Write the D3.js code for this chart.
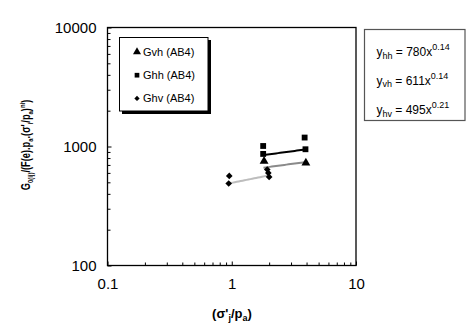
<!DOCTYPE html>
<html>
<head>
<meta charset="utf-8">
<script src="https://cdn.jsdelivr.net/npm/d3@7"></script>
<style>
  html, body { margin: 0; padding: 0; background: #fff; }
  svg { display: block; font-family: "Liberation Sans", Arial, sans-serif; }
</style>
</head>
<body>
<svg id="chart" width="474" height="330"></svg>
<script>
// Normalised shear modulus vs normalised effective stress (sample AB4)
const xTickLabels = [0.1, 1, 10];
const yTickLabels = [100, 1000, 10000];

const gvhX = [1.82, 3.95];
const gvhY = [752, 728];

const ghhX = [1.79, 1.79, 3.86, 3.92];
const ghhY = [1010, 866, 1189, 948];

const ghvX = [0.955, 0.945, 1.93, 1.97, 2.0];
const ghvY = [566, 489, 641, 600, 555];

// power-law fits y = a * x^b
const fitNames = ["hh", "vh", "hv"];
const fitCoef = [780, 611, 495];
const fitExp = [0.14, 0.14, 0.21];
const fitFrom = [1.8, 1.8, 0.95];
const fitTo = [3.9, 3.9, 1.95];
const fitColor = ["#000000", "#8a8a8a", "#bdbdbd"];

const legendNames = ["Gvh (AB4)", "Ghh (AB4)", "Ghv (AB4)"];

const svg = d3.select("#chart");
const plotLeft = 107.5, plotRight = 356, plotTop = 27.5, plotBottom = 265.5;

const x = d3.scaleLog().domain([0.1, 10]).range([plotLeft, plotRight]);
const y = d3.scaleLog().domain([100, 10000]).range([plotBottom, plotTop]);

// frame
svg.append("rect")
  .attr("x", plotLeft).attr("y", plotTop)
  .attr("width", plotRight - plotLeft).attr("height", plotBottom - plotTop)
  .attr("fill", "none").attr("stroke", "#000").attr("stroke-width", 1.3);

// minor ticks (inward)
const xMinor = x.ticks().filter(v => !xTickLabels.includes(v));
const yMinor = y.ticks().filter(v => !yTickLabels.includes(v));

svg.append("g")
  .attr("transform", `translate(0,${plotBottom})`)
  .call(d3.axisBottom(x).tickValues(xMinor).tickSize(-3).tickFormat(""))
  .call(g => g.select(".domain").remove());
svg.append("g")
  .attr("transform", `translate(${plotLeft},0)`)
  .call(d3.axisLeft(y).tickValues(yMinor).tickSize(-3).tickFormat(""))
  .call(g => g.select(".domain").remove());

// major ticks with labels
svg.append("g")
  .attr("transform", `translate(0,${plotBottom})`)
  .call(d3.axisBottom(x).tickValues(xTickLabels).tickSize(-4).tickPadding(13)
    .tickFormat(d => String(d)))
  .call(g => g.select(".domain").remove())
  .call(g => g.selectAll("text").attr("font-size", 15).attr("font-family", "Liberation Sans, Arial, sans-serif").attr("fill", "#000"));
svg.append("g")
  .attr("transform", `translate(${plotLeft},0)`)
  .call(d3.axisLeft(y).tickValues(yTickLabels).tickSize(-4).tickPadding(11)
    .tickFormat(d => String(d)))
  .call(g => g.select(".domain").remove())
  .call(g => g.selectAll("text").attr("font-size", 15).attr("font-family", "Liberation Sans, Arial, sans-serif").attr("fill", "#000"));

// fitted lines
fitNames.forEach((n, i) => {
  const xs = d3.range(0, 21).map(k => fitFrom[i] * Math.pow(fitTo[i] / fitFrom[i], k / 20));
  svg.append("path")
    .datum(xs)
    .attr("fill", "none")
    .attr("stroke", fitColor[i])
    .attr("stroke-width", 2)
    .attr("d", d3.line().x(d => x(d)).y(d => y(fitCoef[i] * Math.pow(d, fitExp[i]))));
});

// markers
const tri = d3.symbol().type(d3.symbolTriangle).size(34);
const sq = d3.symbol().type(d3.symbolSquare).size(34);
const dia = d3.symbol().type(d3.symbolSquare).size(22);   // rotated 45° below

function drawPoints(xs, ys, sym, rot) {
  svg.append("g").selectAll("path")
    .data(xs.map((v, i) => [v, ys[i]]))
    .join("path")
    .attr("d", sym)
    .attr("transform", d => `translate(${x(d[0])},${y(d[1])}) rotate(${rot})`)
    .attr("fill", "#000");
}
drawPoints(gvhX, gvhY, tri, 0);
drawPoints(ghhX, ghhY, sq, 0);
drawPoints(ghvX, ghvY, dia, 45);

// legend
const lg = svg.append("g");
lg.append("rect").attr("x", 122).attr("y", 40).attr("width", 89).attr("height", 74).attr("fill", "#000");
lg.append("rect").attr("x", 119.5).attr("y", 37.5).attr("width", 88.5).attr("height", 73.5)
  .attr("fill", "#fff").attr("stroke", "#000").attr("stroke-width", 1);
const legSyms = [d3.symbol().type(d3.symbolTriangle).size(28), d3.symbol().type(d3.symbolSquare).size(22), d3.symbol().type(d3.symbolSquare).size(14)];
const legRot = [0, 0, 45];
legendNames.forEach((name, i) => {
  const yy = 52 + i * 23.2;
  lg.append("path").attr("d", legSyms[i]).attr("transform", `translate(137,${yy}) rotate(${legRot[i]})`).attr("fill", "#000");
  lg.append("text").attr("x", 143).attr("y", yy + 4).attr("font-size", 11).attr("fill", "#000").text(name);
});

// equation box
const eq = svg.append("g");
eq.append("rect").attr("x", 364.5).attr("y", 29.5).attr("width", 100.5).attr("height", 91)
  .attr("fill", "#fff").attr("stroke", "#555").attr("stroke-width", 1.2);
const eqBase = [56, 84.5, 114];
fitNames.forEach((n, i) => {
  const t = eq.append("text").attr("x", 376.5).attr("y", eqBase[i]).attr("font-size", 12).attr("fill", "#000");
  t.append("tspan").text("y");
  t.append("tspan").attr("font-size", 9).attr("dy", 2.5).text(n);
  t.append("tspan").attr("dy", -2.5).text(" = " + fitCoef[i] + "x");
  t.append("tspan").attr("font-size", 9).attr("dy", -6).text(fitExp[i].toFixed(2));
});

// x axis title
const xt = svg.append("text").attr("x", 232).attr("y", 318).attr("text-anchor", "middle")
  .attr("font-size", 13).attr("font-weight", "bold").attr("fill", "#000");
xt.append("tspan").text("(σ'");
xt.append("tspan").attr("font-size", 9).attr("dy", 3).text("j");
xt.append("tspan").attr("dy", -3).text("/p");
xt.append("tspan").attr("font-size", 9).attr("dy", 3).text("a");
xt.append("tspan").attr("dy", -3).text(")");

// y axis title (condensed along its length)
const yt = svg.append("text").attr("transform", "translate(30,145) rotate(-90) scale(0.74,1)").attr("text-anchor", "middle")
  .attr("font-size", 12.5).attr("font-weight", "bold").attr("fill", "#000");
const ySub = 8;
yt.append("tspan").text("G");
yt.append("tspan").attr("font-size", ySub).attr("dy", 2.5).text("0(ij)");
yt.append("tspan").attr("dy", -2.5).text("/(F(e).p");
yt.append("tspan").attr("font-size", ySub).attr("dy", 2.5).text("a");
yt.append("tspan").attr("dy", -2.5).text(".(σ'");
yt.append("tspan").attr("font-size", ySub).attr("dy", 2.5).text("i");
yt.append("tspan").attr("dy", -2.5).text("/p");
yt.append("tspan").attr("font-size", ySub).attr("dy", 2.5).text("a");
yt.append("tspan").attr("dy", -2.5).text(")");
yt.append("tspan").attr("font-size", ySub).attr("dy", -5).text("ni");
yt.append("tspan").attr("dy", 5).text(")");
</script>
</body>
</html>
